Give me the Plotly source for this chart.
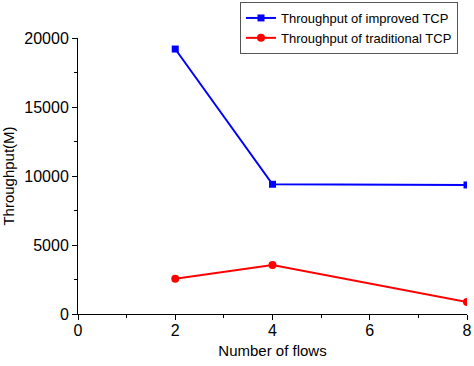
import plotly.graph_objects as go

flows = [2, 4, 8]
improved = [19200, 9400, 9350]
traditional = [2550, 3550, 870]
x_ticks = [0, 2, 4, 6, 8]
y_ticks = [0, 5000, 10000, 15000, 20000]

fig = go.Figure()
fig.add_trace(go.Scatter(x=flows, y=improved, mode="lines+markers",
                         name="Throughput of improved TCP",
                         line=dict(color="#0000ff", width=2),
                         marker=dict(symbol="square", size=7, color="#0000ff")))
fig.add_trace(go.Scatter(x=flows, y=traditional, mode="lines+markers",
                         name="Throughput of traditional TCP",
                         line=dict(color="#ff0000", width=2),
                         marker=dict(symbol="circle", size=8, color="#ff0000")))

font = "Liberation Sans, Arial, sans-serif"
fig.update_layout(
    width=474, height=366,
    margin=dict(l=78, r=7, t=38, b=52, autoexpand=False),
    paper_bgcolor="white", plot_bgcolor="white",
    font=dict(family=font, color="black"),
    showlegend=True,
    legend=dict(xref="container", yref="container",
                x=458/474, xanchor="right", y=1 - 2/366, yanchor="top",
                bordercolor="#555", borderwidth=1, bgcolor="white",
                font=dict(size=13), tracegroupgap=0, itemwidth=30),
    xaxis=dict(range=[0, 8], tickvals=x_ticks, showgrid=False, zeroline=False,
               showline=True, linecolor="black", linewidth=1,
               ticks="outside", ticklen=5, tickcolor="black",
               tickfont=dict(size=16), ticklabelstandoff=-3,
               minor=dict(ticks="outside", ticklen=3, tickvals=[1, 3, 5, 7], tickcolor="black"),
               title=dict(text="Number of flows", font=dict(size=15), standoff=7)),
    yaxis=dict(range=[0, 20000], tickvals=y_ticks, tickformat="d",
               showgrid=False, zeroline=False,
               showline=True, linecolor="black", linewidth=1,
               ticks="outside", ticklen=5, tickcolor="black",
               tickfont=dict(size=16),
               minor=dict(ticks="outside", ticklen=3, tickvals=[2500, 7500, 12500, 17500], tickcolor="black"),
               title=dict(text="Throughput(M)", font=dict(size=15), standoff=9)),
)
fig.write_html("out.html", config={"displayModeBar": False},
               post_script="document.body.style.margin='0';document.body.style.overflow='hidden';")
